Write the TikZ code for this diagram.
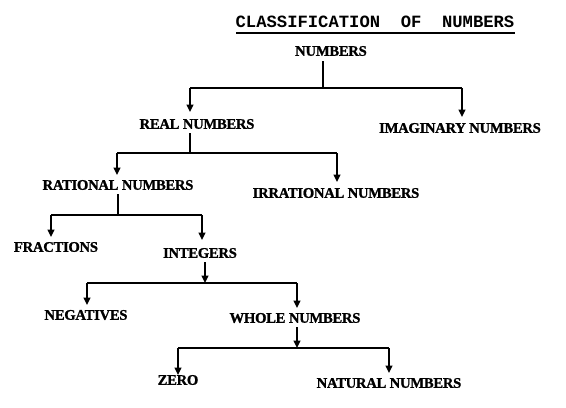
\documentclass[tikz,border=0pt]{standalone}
\usepackage{fontspec}
\setmainfont{Liberation Serif}[BoldFeatures={FakeBold=1.2,LetterSpace=-2}]
\newfontfamily\titlefont{Liberation Mono}
\usetikzlibrary{arrows.meta}
\begin{document}
\begin{tikzpicture}[x=0.75pt,y=-0.75pt,
  lab/.style={inner sep=0pt,font=\fontsize{11}{12}\selectfont\bfseries},
  stem/.style={line width=2.2pt},
  hline/.style={line width=1.1pt},
  arr/.style={line width=1.1pt,-{Triangle[width=5pt,length=5.5pt]}},
  arrthick/.style={line width=2pt,-{Triangle[width=5pt,length=5.5pt]}},
  stemarr/.style={line width=1.5pt,-{Triangle[width=5pt,length=5.5pt]}}]
\useasboundingbox (0,0) rectangle (566,407);
% title
\node[inner sep=0pt,font=\fontsize{12.9}{14}\titlefont\bfseries] (title) at (375,22) {CLASSIFICATION\ \ OF\ \ NUMBERS};
\draw[line width=1.5pt] (236,33) -- (515,33);
% labels
\node[lab] (num) at (331,51) {NUMBERS};
\node[lab] (real) at (197,124) {REAL NUMBERS};
\node[lab] (imag) at (460,128) {IMAGINARY NUMBERS};
\node[lab] (rat) at (118,185) {RATIONAL NUMBERS};
\node[lab] (irr) at (336,193) {IRRATIONAL NUMBERS};
\node[lab] (frac) at (56,247) {FRACTIONS};
\node[lab] (int) at (200,253) {INTEGERS};
\node[lab] (neg) at (86,315) {NEGATIVES};
\node[lab] (whole) at (295,318) {WHOLE NUMBERS};
\node[lab] (zero) at (178,380) {ZERO};
\node[lab] (nat) at (389,383) {NATURAL NUMBERS};
% junction and end coordinates
\coordinate (j1) at (323,88);
\coordinate (realT) at (190,112);
\coordinate (imagT) at (462,117);
\coordinate (j2) at (190,153);
\coordinate (ratT) at (117,175);
\coordinate (irrT) at (337,182);
\coordinate (j3) at (118,215);
\coordinate (fracT) at (51,237);
\coordinate (intT) at (202,240);
\coordinate (j4) at (205,283);
\coordinate (negT) at (87,305);
\coordinate (wholeT) at (297,308);
\coordinate (j5) at (297,348);
\coordinate (zeroT) at (178,375);
\coordinate (natT) at (389,373);
% level 1
\draw[stem] (num.south -| j1) ++(0,5) -- (j1);
\draw[hline] (j1) -- (j1 -| realT);
\draw[hline] (j1) -- (j1 -| imagT);
\draw[arr] (j1 -| realT) -- (realT);
\draw[arrthick] (j1 -| imagT) -- (imagT);
% level 2
\draw[stem] (real.south -| j2) ++(0,4) -- (j2);
\draw[hline] (j2) -- (j2 -| ratT);
\draw[hline] (j2) -- (j2 -| irrT);
\draw[arr] (j2 -| ratT) -- (ratT);
\draw[arrthick] (j2 -| irrT) -- (irrT);
% level 3
\draw[stem] (rat.south -| j3) ++(0,4) -- (j3);
\draw[hline] (j3) -- (j3 -| fracT);
\draw[hline] (j3) -- (j3 -| intT);
\draw[arr] (j3 -| fracT) -- (fracT);
\draw[arr] (j3 -| intT) -- (intT);
% level 4
\draw[stemarr] (int.south -| j4) ++(0,4) -- (j4);
\draw[hline] (j4) -- (j4 -| negT);
\draw[hline] (j4) -- (j4 -| wholeT);
\draw[arr] (j4 -| negT) -- (negT);
\draw[arr] (j4 -| wholeT) -- (wholeT);
% level 5
\draw[stemarr] (whole.south -| j5) ++(0,4) -- (j5);
\draw[hline] (j5) -- (j5 -| zeroT);
\draw[hline] (j5) -- (j5 -| natT);
\draw[arr] (j5 -| zeroT) -- (zeroT);
\draw[arrthick] (j5 -| natT) -- (natT);
\end{tikzpicture}
\end{document}
